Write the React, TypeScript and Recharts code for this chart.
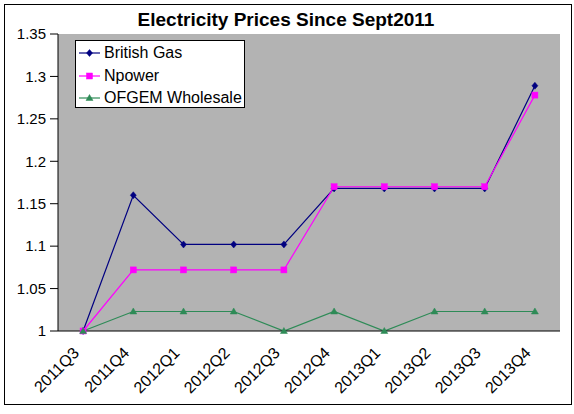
import { LineChart, Line, XAxis, YAxis, CartesianGrid, Legend } from 'recharts';

const quarters = ['2011Q3', '2011Q4', '2012Q1', '2012Q2', '2012Q3', '2012Q4', '2013Q1', '2013Q2', '2013Q3', '2013Q4'];
const britishGas = [1.0, 1.16, 1.102, 1.102, 1.102, 1.168, 1.168, 1.168, 1.168, 1.289];
const npower = [1.0, 1.072, 1.072, 1.072, 1.072, 1.17, 1.17, 1.17, 1.17, 1.278];
const ofgem = [1.0, 1.023, 1.023, 1.023, 1.0, 1.023, 1.0, 1.023, 1.023, 1.023];
const yTicks = [1, 1.05, 1.1, 1.15, 1.2, 1.25, 1.3, 1.35];

const FONT = '"Liberation Sans", Arial, sans-serif';
const NAVY = '#000080';
const MAGENTA = '#FF00FF';
const GREEN = '#2E8B57';

const data = quarters.map((q, i) => ({
  i,
  q,
  bg: britishGas[i],
  np: npower[i],
  of: ofgem[i],
}));

const boundaryTicks = quarters.map((_, i) => i - 0.5).concat(quarters.length - 0.5);
const centerTicks = quarters.map((_, i) => i);

function Diamond({ cx, cy, color }: { cx: number; cy: number; color: string }) {
  return <path d={`M${cx},${cy - 3.5}L${cx + 3},${cy}L${cx},${cy + 3.5}L${cx - 3},${cy}Z`} fill={color} stroke={color} strokeWidth={0.5} />;
}
function Square({ cx, cy, color }: { cx: number; cy: number; color: string }) {
  return <rect x={cx - 3} y={cy - 3} width={6} height={6} fill={color} stroke={color} strokeWidth={0.5} />;
}
function Triangle({ cx, cy, color }: { cx: number; cy: number; color: string }) {
  return <path d={`M${cx},${cy - 3.5}L${cx + 3.5},${cy + 2.5}L${cx - 3.5},${cy + 2.5}Z`} fill={color} stroke={color} strokeWidth={0.5} />;
}

const markers: Record<string, (p: { cx: number; cy: number; color: string }) => any> = {
  bg: Diamond,
  np: Square,
  of: Triangle,
};

function dotFor(key: string, color: string) {
  const Shape = markers[key];
  return (props: any) => {
    if (props.cx == null || props.cy == null) return <g key={props.key} />;
    return <Shape key={props.key} cx={props.cx} cy={props.cy} color={color} />;
  };
}

function QuarterTick(props: any) {
  const { x, y, payload } = props;
  const ax = x - 3;
  const ay = y + 17;
  return (
    <text
      x={ax}
      y={ay}
      transform={`rotate(-45, ${ax}, ${ay})`}
      textAnchor="end"
      fontSize={16}
      fontFamily={FONT}
      fill="#000"
    >
      {quarters[payload.value]}
    </text>
  );
}

function LegendBox(props: any) {
  const { payload } = props;
  return (
    <div
      style={{
        width: 170,
        height: 68,
        boxSizing: 'border-box',
        border: '1px solid #000',
        background: '#fff',
        fontFamily: FONT,
        fontSize: 16,
        paddingTop: 1,
      }}
    >
      {(payload || []).map((entry: any) => {
        const Shape = markers[entry.dataKey];
        return (
          <div key={entry.dataKey} style={{ display: 'flex', alignItems: 'center', height: 22.5 }}>
            <svg width={28} height={12} style={{ flex: 'none' }}>
              <line x1={3} y1={6} x2={24} y2={6} stroke={entry.color} strokeWidth={1.2} />
              <Shape cx={13.5} cy={6} color={entry.color} />
            </svg>
            <span style={{ color: '#000', lineHeight: '18px' }}>{entry.value}</span>
          </div>
        );
      })}
    </div>
  );
}

export default function App() {
  return (
    <div
      style={{
        position: 'absolute',
        left: 4,
        top: 4,
        width: 568,
        height: 401,
        border: '1px solid #000',
        boxSizing: 'border-box',
        background: '#fff',
        fontFamily: FONT,
      }}
    >
      <div
        style={{
          position: 'absolute',
          left: 0,
          width: 566,
          top: 4,
          textAlign: 'center',
          fontWeight: 'bold',
          fontSize: 19,
          fontFamily: FONT,
          paddingRight: 4,
          boxSizing: 'border-box',
        }}
      >
        Electricity Prices Since Sept2011
      </div>
      <LineChart width={566} height={399} data={data} margin={{ top: 29, right: 11, left: 0, bottom: 0 }}>
        <CartesianGrid
          vertical={false}
          stroke="#000"
          strokeWidth={1}
          fill="#B3B3B3"
          fillOpacity={1}
          horizontalCoordinatesGenerator={(args: any) => {
            const scale = args?.yAxis?.scale;
            if (typeof scale !== 'function') return [];
            return yTicks.filter((t) => t < 1.35).map((t) => scale(t));
          }}
        />
        <XAxis
          dataKey="i"
          type="number"
          domain={[-0.5, quarters.length - 0.5]}
          ticks={boundaryTicks}
          tick={false}
          tickSize={5}
          height={6}
          axisLine={{ stroke: '#000' }}
          tickLine={{ stroke: '#000' }}
        />
        <XAxis
          xAxisId="lbl"
          dataKey="i"
          type="number"
          domain={[-0.5, quarters.length - 0.5]}
          ticks={centerTicks}
          tick={<QuarterTick />}
          tickSize={0}
          tickMargin={0}
          tickLine={false}
          axisLine={false}
          height={67}
          interval={0}
        />
        <YAxis
          domain={[1, 1.35]}
          ticks={yTicks}
          width={53}
          tickSize={8}
          tickMargin={4}
          interval={0}
          tickFormatter={(v: number) => String(+v.toFixed(2))}
          tick={{ fontSize: 15, fill: '#000', fontFamily: FONT }}
          axisLine={{ stroke: '#000' }}
          tickLine={{ stroke: '#000' }}
        />
        <Legend
          layout="horizontal"
          verticalAlign="middle"
          align="center"
          content={<LegendBox />}
          wrapperStyle={{ left: 70, top: 35, width: 170, height: 68 }}
        />
        <Line
          dataKey="bg"
          name="British Gas"
          stroke={NAVY}
          strokeWidth={1.2}
          dot={dotFor('bg', NAVY)}
          activeDot={false}
          isAnimationActive={false}
        />
        <Line
          dataKey="np"
          name="Npower"
          stroke={MAGENTA}
          strokeWidth={1.2}
          dot={dotFor('np', MAGENTA)}
          activeDot={false}
          isAnimationActive={false}
        />
        <Line
          dataKey="of"
          name="OFGEM Wholesale"
          stroke={GREEN}
          strokeWidth={1.2}
          dot={dotFor('of', GREEN)}
          activeDot={false}
          isAnimationActive={false}
        />
      </LineChart>
    </div>
  );
}
